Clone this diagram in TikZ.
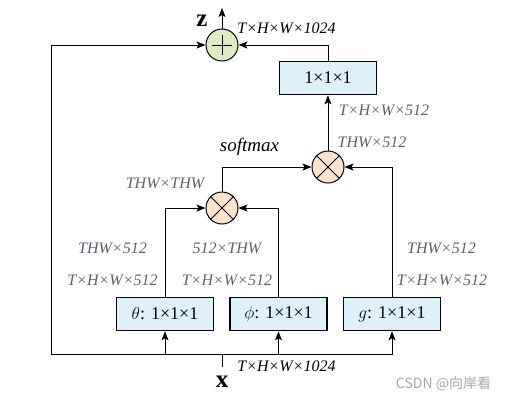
\documentclass[tikz,border=0pt]{standalone}
\usepackage{fontspec}
\setmainfont{Liberation Serif}
\newfontfamily\cjkfont{Noto Sans CJK SC}
\usetikzlibrary{shapes,arrows.meta,calc}
\definecolor{boxblue}{RGB}{222,241,250}
\definecolor{sumgreen}{RGB}{221,235,197}
\definecolor{mulorange}{RGB}{251,228,206}
\definecolor{dimgray}{RGB}{95,95,110}
\tikzstyle{block} = [draw, rectangle, fill=boxblue, line width=1.6pt,
    minimum height=33pt, minimum width=97pt, font=\fontsize{18}{18}\selectfont]
\tikzstyle{sum} = [draw, circle, fill=sumgreen, minimum size=32pt, inner sep=0pt]
\tikzstyle{mul} = [draw, circle, fill=mulorange, minimum size=32pt, inner sep=0pt]
\tikzstyle{dim} = [anchor=base, text=dimgray, font=\fontsize{16}{16}\selectfont\itshape]
\tikzstyle{size} = [anchor=base, font=\fontsize{16}{16}\selectfont\itshape]
\tikzstyle{var} = [anchor=base, font=\fontsize{25}{25}\selectfont\bfseries]
\tikzstyle{input} = [coordinate]
\tikzstyle{output} = [coordinate]

\begin{document}
\begin{tikzpicture}[x=1pt, y=-1pt, node distance=113.5pt, line width=1pt,
    >={Stealth[length=9pt,width=7pt,inset=2pt]}]
    \useasboundingbox (0,0) rectangle (509,400);
    % We start by placing the blocks
    \node [block] (theta) at (165,314) {$\theta$: 1×1×1};
    \node [block, right of=theta] (phi) {$\phi$: 1×1×1};
    \node [block, right of=phi] (g) {$g$: 1×1×1};
    \node [mul] (mul1) at (222,208) {};
    \node [mul] (mul2) at (328,167) {};
    \node [block, above of=mul2, node distance=89pt] (conv) {1×1×1};
    \node [sum] (plus) at (222,45) {};
    \draw (mul1.north west) -- (mul1.south east) (mul1.north east) -- (mul1.south west);
    \draw (mul2.north west) -- (mul2.south east) (mul2.north east) -- (mul2.south west);
    \draw ($(plus)+(0,-10)$) -- ($(plus)+(0,10)$) ($(plus)+(-10,0)$) -- ($(plus)+(10,0)$);

    % Input and output points
    \node [input] (xin) at (222,367) {};
    \node [input] (bus) at (222,354) {};
    \node [input] (corner) at (51,45) {};
    \node [output] (zout) at (222,8) {};
    \node [var] (xlabel) at (222,387) {x};
    \node [var] (zlabel) at (202,26) {z};

    % Once the nodes are placed, connecting them is easy.
    \draw (xin) -- (bus);
    \draw [->] (bus) -| (theta);
    \draw [->] (bus) -| (phi);
    \draw [->] (bus) -| (g);
    \draw [->] (bus) -| (corner) -- (plus);
    \draw [->] (theta) |- (mul1);
    \draw [->] (phi) |- (mul1);
    \draw [->] (mul1) |- (mul2);
    \draw [->] (g) |- (mul2);
    \draw [->] (mul2) -- (conv);
    \draw [->] (conv) |- (plus);
    \draw [->] (plus) -- (zout);

    % Tensor sizes
    \node [size] (zsize) at (286.5,33) {T×H×W×1024};
    \node [size] (xsize) at (286.5,371) {T×H×W×1024};
    \node [dim] (convin) at (384,115) {T×H×W×512};
    \node [dim] (mulout) at (372,147) {THW×512};
    \node [size, font=\fontsize{19}{19}\selectfont\itshape] (softmax) at (249.5,151) {softmax};
    \node [dim] (attn) at (165,188) {THW×THW};
    \node [dim] (thetaflat) at (112.5,253) {THW×512};
    \node [dim] (thetaout) at (112.5,285) {T×H×W×512};
    \node [dim] (phiflat) at (227,253) {512×THW};
    \node [dim] (phiout) at (227,285) {T×H×W×512};
    \node [dim] (gflat) at (441.5,253) {THW×512};
    \node [dim] (gout) at (442,285) {T×H×W×512};
    \node [anchor=base, text=black!35, font=\cjkfont\fontsize{14}{14}\selectfont]
        (mark) at (443.5,388) {CSDN @向岸看};
\end{tikzpicture}
\end{document}
